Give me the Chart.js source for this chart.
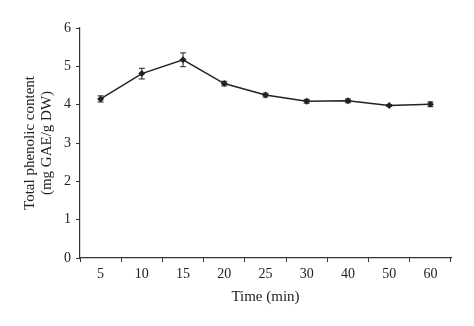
<!DOCTYPE html>
<html>
<head>
<meta charset="utf-8">
<script src="https://cdn.jsdelivr.net/npm/chart.js@4"></script>
<style>
  html, body { margin: 0; padding: 0; background: #fff; }
  #wrap { width: 474px; height: 326px; }
</style>
</head>
<body>
<div id="wrap"><canvas id="phenolChart" width="474" height="326"></canvas></div>
<script>
// data
const timeLabels = ["5", "10", "15", "20", "25", "30", "40", "50", "60"];
const phenolic = [4.15, 4.81, 5.17, 4.55, 4.25, 4.09, 4.10, 3.98, 4.01];
const phenolicErr = [0.08, 0.14, 0.18, 0.06, 0.05, 0.05, 0.05, 0.02, 0.06];
const yTicks = [0, 1, 2, 3, 4, 5, 6];

const serif = "'Liberation Serif', 'DejaVu Serif', serif";
const ink = "#222";

// vertical error bars with caps
const errorBars = {
  id: "errorBars",
  afterDatasetsDraw(chart) {
    const ctx = chart.ctx;
    const yScale = chart.scales.y;
    const meta = chart.getDatasetMeta(0);
    ctx.save();
    ctx.strokeStyle = ink;
    ctx.lineWidth = 1;
    meta.data.forEach((pt, i) => {
      const top = yScale.getPixelForValue(phenolic[i] + phenolicErr[i]);
      const bot = yScale.getPixelForValue(phenolic[i] - phenolicErr[i]);
      ctx.beginPath();
      ctx.moveTo(pt.x, top);
      ctx.lineTo(pt.x, bot);
      ctx.moveTo(pt.x - 3, top);
      ctx.lineTo(pt.x + 3, top);
      ctx.moveTo(pt.x - 3, bot);
      ctx.lineTo(pt.x + 3, bot);
      ctx.stroke();
    });
    ctx.restore();
  }
};

const ctx = document.getElementById("phenolChart").getContext("2d");
new Chart(ctx, {
  type: "line",
  data: {
    labels: timeLabels,
    datasets: [{
      data: phenolic,
      borderColor: ink,
      backgroundColor: ink,
      borderWidth: 1.5,
      pointStyle: "rectRot",
      pointRadius: 3.5,
      pointBorderWidth: 0,
      tension: 0
    }]
  },
  options: {
    responsive: false,
    animation: false,
    layout: { padding: { top: 28, right: 23, bottom: 0, left: 0 } },
    plugins: {
      legend: { display: false },
      tooltip: { enabled: false }
    },
    scales: {
      x: {
        offset: true,
        grid: { drawOnChartArea: false, offset: true, tickLength: 4, tickColor: "#333" },
        border: { color: "#333", width: 1.2 },
        ticks: { color: ink, font: { family: serif, size: 14 }, padding: 4, maxRotation: 0 },
        title: {
          display: true,
          text: "Time (min)",
          color: ink,
          font: { family: serif, size: 15 },
          padding: { top: 0, bottom: 20 }
        },
        afterFit(scale) { scale.height = 68; }
      },
      y: {
        min: yTicks[0],
        max: yTicks[yTicks.length - 1],
        grid: { drawOnChartArea: false, tickLength: 4, tickColor: "#333" },
        border: { color: "#333", width: 1.2 },
        ticks: { stepSize: 1, color: ink, font: { family: serif, size: 14 }, padding: 5 },
        afterBuildTicks(scale) { scale.ticks = yTicks.map(v => ({ value: v })); },
        title: {
          display: true,
          text: ["Total phenolic content", "(mg GAE/g DW)"],
          color: ink,
          font: { family: serif, size: 15, lineHeight: 1.1 },
          padding: { top: 22, bottom: 0 }
        },
        afterFit(scale) { scale.width = 80; }
      }
    }
  },
  plugins: [errorBars]
});
</script>
</body>
</html>
